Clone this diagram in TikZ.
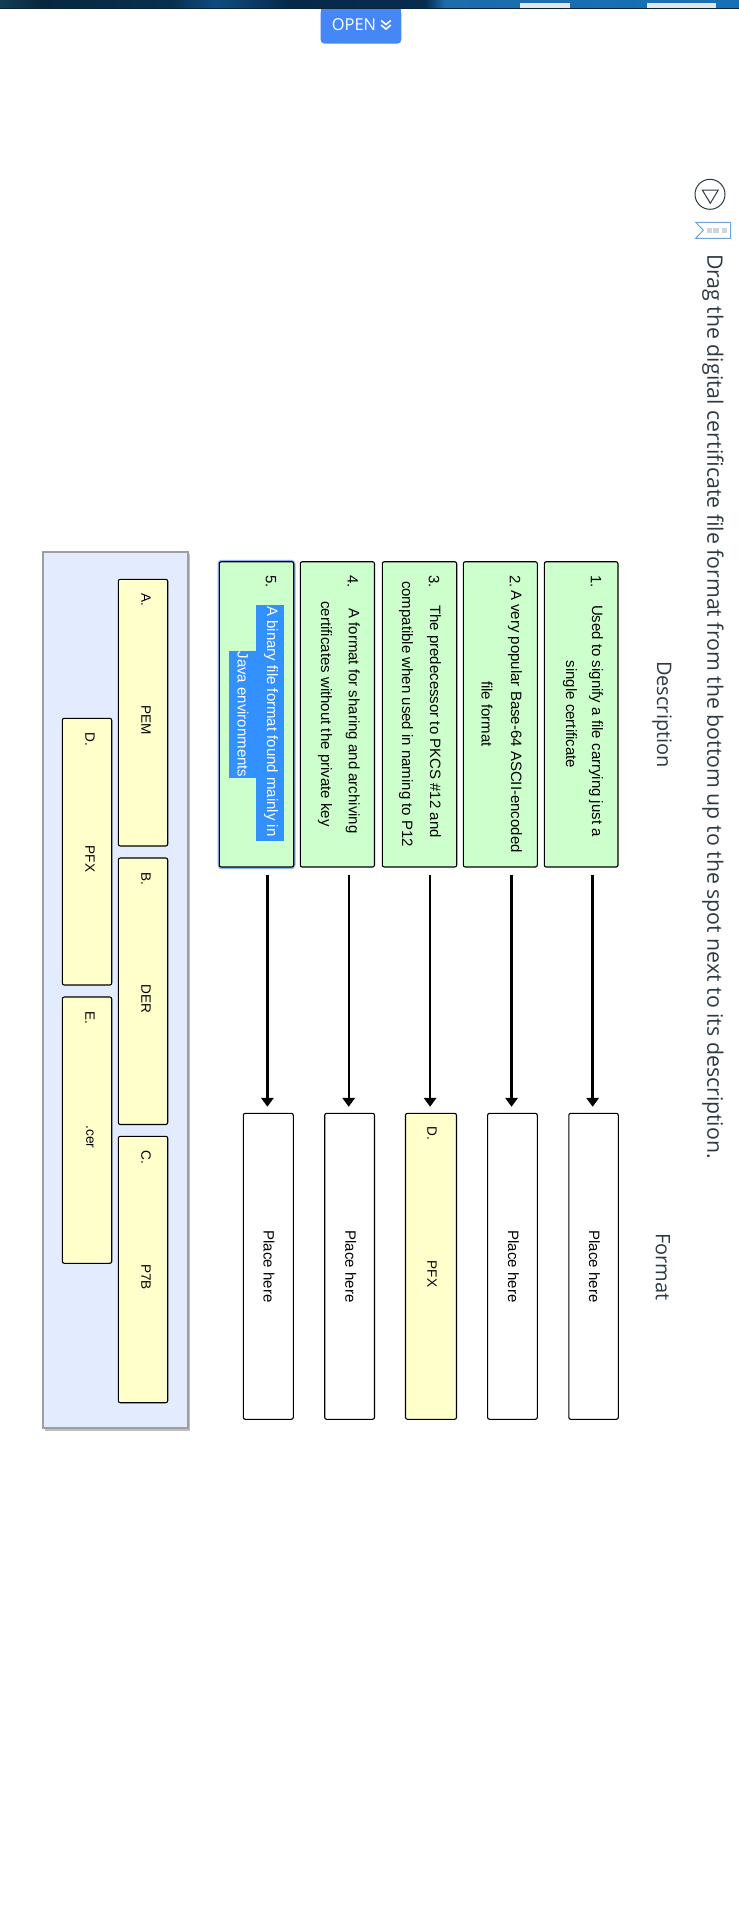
\documentclass[tikz,border=0pt]{standalone}
\usepackage{fontspec}
\setmainfont{Liberation Sans}
\newfontfamily\titlefont{Open Sans}
\usetikzlibrary{arrows.meta}
\definecolor{ghl}{HTML}{CCFFCC}
\definecolor{yel}{HTML}{FFFFCC}
\definecolor{poolc}{HTML}{E3ECFE}
\definecolor{selc}{HTML}{3390FF}
\definecolor{btn}{HTML}{4587F7}
\definecolor{ink}{HTML}{2B3A42}
\definecolor{flagc}{HTML}{6CA6D9}
\definecolor{flagd}{HTML}{D0D5DD}
\definecolor{focusc}{HTML}{8FB4EE}
\definecolor{barA}{HTML}{123F55}
\definecolor{barB}{HTML}{07283F}
\definecolor{barC}{HTML}{07304F}
\definecolor{barD}{HTML}{0E4C82}
\definecolor{barE}{HTML}{06294A}
\definecolor{barF}{HTML}{062C4E}
\definecolor{barG}{HTML}{1B6DAB}
\definecolor{barH}{HTML}{1570B8}
\definecolor{barL}{HTML}{0A2238}
\tikzset{
  x=0.5pt,y=-0.5pt,
  card/.style={draw=black,line width=0.55pt,rounded corners=1pt,inner sep=0pt},
  descbox/.style={card,fill=ghl},
  slotbox/.style={card,fill=white},
  itembox/.style={card,fill=yel},
  txt/.style={rotate=-90,font=\fontsize{7.5}{9}\selectfont,inner sep=0pt,text=black},
  slottxt/.style={txt,font=\fontsize{7.5}{9}\selectfont},
  itemtxt/.style={txt,font=\fontsize{6.8}{8}\selectfont},
  head/.style={rotate=-90,font=\titlefont\fontsize{10}{12}\selectfont,inner sep=0pt,text=ink},
  arr/.style={draw=black,line width=1.2pt,-{Triangle[length=4.5pt,width=6.2pt]},shorten <=3.5pt,shorten >=3pt},
}
\newcommand{\cardnode}[6]{\node[#2,minimum width={(#5-#3)*0.5pt},minimum height={(#6-#4)*0.5pt}] (#1) at ({(#3+#5)/2},{(#4+#6)/2}) {};}
\newcommand{\linetext}[3]{\node[txt] at (#1,#2) {#3};}
\newcommand{\numtext}[3]{\node[txt,anchor=west] at (#1,#2) {#3};}
\newcommand{\slottext}[2]{\node[slottxt] at (#1,#2) {Place here};}
\newcommand{\itemtext}[3]{\node[itemtxt] at (#1,#2) {#3};}
\newcommand{\itemnum}[3]{\node[itemtxt,anchor=west] at (#1,#2) {#3};}
\newcommand{\barseg}[4]{\shade[left color=#3,right color=#4] (#1,0) rectangle (#2,8.3);}
\begin{document}
\begin{tikzpicture}
\useasboundingbox (0,0) rectangle (739,1912);
% top bar
\barseg{0}{40}{barA}{barB}
\barseg{40}{170}{barB}{barC}
\barseg{170}{215}{barC}{barD}
\barseg{215}{290}{barD}{barE}
\barseg{290}{425}{barE}{barF}
\barseg{425}{445}{barF}{barG}
\barseg{445}{739}{barG}{barH}
\fill[barL] (0,8) rectangle (739,9);
\fill[black!10] (520,3) rectangle (570,8);
\fill[black!10] (647,3) rectangle (716,8);
% OPEN button
\fill[btn,rounded corners=2pt] (320.6,9) rectangle (401.3,43.7);
\fill[btn] (320.6,9) rectangle (401.3,20);
\node[font=\titlefont\fontsize{8.2}{10}\selectfont,text=white,inner sep=0pt] (open) at (354,25) {OPEN};
\draw[white,line width=0.8pt] (381.2,20.5) -- (386,24.5) -- (390.8,20.5);
\draw[white,line width=0.8pt] (381.2,25) -- (386,29) -- (390.8,25);
% icons
\draw[ink,line width=0.5pt] (710,194.3) circle [radius=15];
\draw[ink,line width=0.5pt] (702.3,190) -- (718.3,190) -- (710.3,203.3) -- cycle;
\draw[flagc,line width=0.5pt] (695.7,222.3) -- (730.7,222.3) -- (730.7,238.3) -- (695.7,238.3) -- (703.3,230.3) -- cycle;
\fill[flagd] (706.7,228) rectangle (711.7,233.3);
\fill[flagd] (713.3,228) rectangle (719.3,233.3);
\fill[flagd] (721.7,228) rectangle (727.3,233.3);
% headings
\node[head,font=\titlefont\fontsize{10.65}{12}\selectfont] (title) at (713,706.5) {Drag the digital certificate file format from the bottom up to the spot next to its description.};
\node[head] (hdesc) at (662,714.5) {Description};
\node[head] (hfmt) at (663,1267) {Format};
% pool
\fill[black!25] (44.5,554) rectangle (189.5,1430.5);
\draw[black!38,fill=poolc,line width=0.9pt] (42.7,552.3) rectangle (187.7,1428.3);
% description boxes
\cardnode{g1}{descbox}{544.3}{561.7}{618}{867}
\cardnode{g2}{descbox}{463.3}{561.7}{537.3}{867}
\cardnode{g3}{descbox}{382.3}{561.7}{456.7}{867}
\cardnode{g4}{descbox}{300.3}{561.7}{374.5}{867}
\draw[focusc,line width=1.2pt,rounded corners=1.5pt] (218.7,561) rectangle (294.3,868);
\cardnode{g5}{descbox}{219.3}{561.7}{293.7}{867}
% slots
\cardnode{p1}{slotbox}{568.8}{1113.3}{618.3}{1419.3}
\cardnode{p2}{slotbox}{487.6}{1113.3}{537.3}{1419.3}
\cardnode{p3}{itembox}{405.5}{1113.3}{456.5}{1419.3}
\cardnode{p4}{slotbox}{324.7}{1113.3}{374.5}{1419.3}
\cardnode{p5}{slotbox}{243.3}{1113.3}{293.3}{1419.3}
% connectors
\foreach \i in {1,...,5}{\draw[arr] ([xshift=-0.45pt]g\i.south -| p\i.north) -- ([xshift=-0.45pt]p\i.north);}
% pool items
\cardnode{ia}{itembox}{118.3}{579.3}{167.7}{846}
\cardnode{ib}{itembox}{118.3}{858}{167.7}{1124.5}
\cardnode{ic}{itembox}{118.3}{1136.3}{167.7}{1402.7}
\cardnode{id}{itembox}{62.3}{718.3}{111.7}{985}
\cardnode{ie}{itembox}{62.3}{997}{111.7}{1263.3}
% selection
\fill[selc] (256,605) rectangle (284,841);
\fill[selc] (229,651) rectangle (256.7,777.7);
% description text
\numtext{596}{575}{1.}
\linetext{596}{721}{Used to signify a file carrying just a}
\linetext{570}{714.5}{single certificate}
\numtext{515}{575}{2.}
\linetext{515}{721.5}{A very popular Base-64 ASCII-encoded}
\linetext{487}{714}{file format}
\numtext{434}{575}{3.}
\linetext{434}{721.5}{The predecessor to PKCS \#12 and}
\linetext{406}{714}{compatible when used in naming to P12}
\numtext{352.7}{575}{4.}
\linetext{352.7}{721}{A format for sharing and archiving}
\linetext{325}{714}{certificates without the private key}
\numtext{271}{575}{5.}
\node[txt,text=white] at (271,721.5) {A binary file format found mainly in};
\node[txt,text=white] at (243,714.5) {Java environments};
% slot text
\slottext{594.5}{1266.5}
\slottext{513.5}{1266.5}
\slottext{350.7}{1266.5}
\slottext{269}{1266.5}
\itemnum{432}{1126}{D.}
\itemtext{432}{1274}{PFX}
% item text
\itemnum{146}{593}{A.}
\itemtext{146}{720}{PEM}
\itemnum{146}{872}{B.}
\itemtext{146}{999}{DER}
\itemnum{146}{1150}{C.}
\itemtext{146}{1277}{P7B}
\itemnum{90}{732}{D.}
\itemtext{90}{859}{PFX}
\itemnum{90}{1011}{E.}
\itemtext{90}{1137}{.cer}
\end{tikzpicture}
\end{document}
